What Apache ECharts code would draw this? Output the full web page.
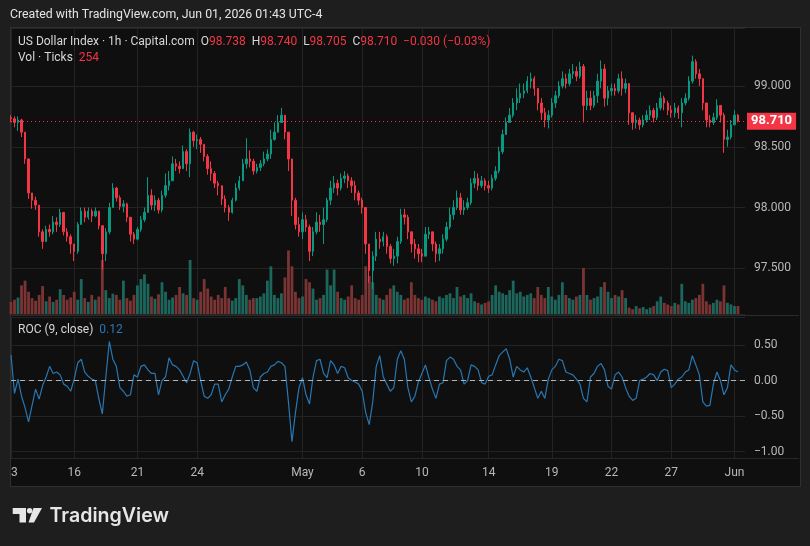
<!DOCTYPE html>
<html>
<head>
<meta charset="utf-8">
<script src="https://cdn.jsdelivr.net/npm/echarts@6/dist/echarts.min.js"></script>
<style>
  html, body { margin: 0; padding: 0; background: #1e1e1e; }
  #panel { position: absolute; left: 10px; top: 27px; width: 789px; height: 458px; background: #0f0f0f; border: 1px solid #2f2f2f; }
  #chart { position: absolute; left: 0; top: 0; width: 810px; height: 546px; }
</style>
</head>
<body>
<div id="panel"></div>
<div id="chart"></div>
<script>
  var firstOpen = 98.74;
  var closes = [
    98.73, 98.70, 98.72, 98.62, 98.40, 98.12, 98.06, 98.02, 97.80, 97.72,
    97.82, 97.80, 97.88, 97.86, 97.96, 97.80, 97.76, 97.70, 97.64, 97.86,
    97.97, 97.92, 97.97, 97.93, 97.97, 97.85, 97.62, 97.80, 98.00, 98.16,
    98.08, 98.01, 98.03, 97.92, 97.78, 97.74, 97.82, 97.90, 97.96, 98.10,
    98.02, 98.06, 97.98, 98.10, 98.18, 98.22, 98.36, 98.34, 98.32, 98.46,
    98.36, 98.62, 98.55, 98.56, 98.52, 98.42, 98.32, 98.28, 98.20, 98.18,
    98.07, 98.00, 97.96, 98.06, 98.16, 98.22, 98.36, 98.40, 98.38, 98.30,
    98.33, 98.36, 98.40, 98.44, 98.56, 98.62, 98.70, 98.76, 98.62, 98.40,
    98.06, 97.86, 97.80, 97.90, 97.84, 97.64, 97.80, 97.88, 97.86, 97.90,
    98.06, 98.16, 98.20, 98.16, 98.24, 98.26, 98.22, 98.18, 98.12, 98.06,
    98.00, 97.70, 97.48, 97.60, 97.74, 97.72, 97.76, 97.68, 97.58, 97.60,
    97.72, 97.94, 97.92, 97.80, 97.70, 97.66, 97.62, 97.60, 97.78, 97.80,
    97.70, 97.62, 97.66, 97.74, 97.84, 97.94, 98.00, 98.08, 97.98, 98.00,
    98.04, 98.20, 98.24, 98.18, 98.22, 98.18, 98.16, 98.24, 98.30, 98.46,
    98.60, 98.70, 98.76, 98.86, 98.90, 98.94, 98.96, 99.04, 99.06, 98.98,
    98.86, 98.78, 98.72, 98.76, 98.86, 98.92, 99.00, 99.06, 99.02, 99.10,
    99.12, 99.08, 99.16, 98.84, 98.90, 98.84, 98.92, 99.04, 99.14, 98.90,
    98.96, 98.98, 98.96, 99.06, 98.98, 99.02, 98.78, 98.70, 98.72, 98.68,
    98.72, 98.76, 98.80, 98.74, 98.82, 98.90, 98.86, 98.80, 98.78, 98.82,
    98.78, 98.86, 98.90, 99.04, 99.20, 99.10, 99.06, 98.86, 98.72, 98.70,
    98.74, 98.84, 98.76, 98.56, 98.58, 98.68, 98.76, 98.71
  ];
  var highs = [
    98.76, 98.75, 98.75, 98.73, 98.58, 98.36, 98.10, 98.09, 97.99, 97.82,
    97.85, 97.86, 97.93, 97.92, 97.99, 97.94, 97.83, 97.78, 97.70, 97.88,
    98.00, 98.00, 98.00, 97.99, 98.00, 97.96, 97.85, 97.83, 98.04, 98.20,
    98.17, 98.10, 98.06, 98.04, 97.92, 97.80, 97.84, 97.93, 98.00, 98.25,
    98.15, 98.10, 98.08, 98.14, 98.28, 98.30, 98.42, 98.40, 98.38, 98.51,
    98.48, 98.65, 98.63, 98.60, 98.58, 98.50, 98.44, 98.38, 98.30, 98.22,
    98.18, 98.10, 98.02, 98.08, 98.20, 98.26, 98.40, 98.57, 98.47, 98.40,
    98.36, 98.39, 98.46, 98.48, 98.64, 98.70, 98.76, 98.82, 98.74, 98.62,
    98.38, 98.08, 97.92, 97.96, 97.94, 97.86, 97.84, 97.96, 97.94, 98.00,
    98.08, 98.22, 98.26, 98.23, 98.28, 98.30, 98.28, 98.25, 98.22, 98.14,
    98.08, 97.98, 97.70, 97.64, 97.80, 97.80, 97.80, 97.78, 97.70, 97.66,
    97.76, 97.99, 97.99, 97.94, 97.80, 97.74, 97.70, 97.66, 97.84, 97.84,
    97.80, 97.72, 97.70, 97.78, 97.88, 98.00, 98.06, 98.14, 98.12, 98.06,
    98.08, 98.24, 98.30, 98.28, 98.26, 98.24, 98.22, 98.27, 98.34, 98.50,
    98.64, 98.74, 98.82, 98.90, 98.98, 99.02, 99.02, 99.08, 99.11, 99.08,
    98.98, 98.90, 98.82, 98.80, 98.90, 98.96, 99.04, 99.12, 99.10, 99.14,
    99.18, 99.16, 99.20, 99.18, 98.96, 98.96, 98.96, 99.10, 99.21, 99.18,
    99.00, 99.02, 99.02, 99.10, 99.12, 99.06, 98.83, 98.78, 98.76, 98.74,
    98.76, 98.80, 98.84, 98.82, 98.86, 98.95, 98.92, 98.88, 98.84, 98.86,
    98.84, 98.90, 98.94, 99.08, 99.25, 99.22, 99.14, 99.04, 98.86, 98.76,
    98.78, 98.89, 98.84, 98.78, 98.64, 98.72, 98.80, 98.77
  ];
  var lows = [
    98.70, 98.66, 98.63, 98.58, 98.36, 98.07, 97.99, 97.98, 97.76, 97.66,
    97.72, 97.76, 97.78, 97.80, 97.84, 97.77, 97.72, 97.62, 97.56, 97.62,
    97.86, 97.88, 97.90, 97.88, 97.92, 97.82, 97.49, 97.56, 97.78, 98.02,
    98.05, 97.98, 97.96, 97.88, 97.72, 97.70, 97.73, 97.80, 97.88, 97.96,
    97.98, 97.97, 97.95, 97.96, 98.08, 98.14, 98.26, 98.30, 98.28, 98.32,
    98.30, 98.25, 98.50, 98.48, 98.45, 98.38, 98.27, 98.22, 98.16, 98.10,
    98.02, 97.96, 97.89, 97.95, 98.05, 98.14, 98.22, 98.32, 98.33, 98.27,
    98.28, 98.30, 98.34, 98.38, 98.40, 98.55, 98.62, 98.70, 98.56, 98.30,
    97.93, 97.82, 97.76, 97.74, 97.80, 97.56, 97.60, 97.78, 97.80, 97.70,
    97.88, 98.02, 98.12, 98.10, 98.14, 98.20, 98.16, 98.12, 98.06, 98.02,
    97.95, 97.62, 97.38, 97.33, 97.56, 97.66, 97.68, 97.62, 97.54, 97.52,
    97.54, 97.70, 97.86, 97.74, 97.63, 97.58, 97.55, 97.55, 97.60, 97.74,
    97.64, 97.55, 97.56, 97.62, 97.72, 97.82, 97.90, 97.98, 97.94, 97.94,
    97.98, 98.02, 98.16, 98.14, 98.16, 98.14, 98.12, 98.14, 98.22, 98.28,
    98.44, 98.60, 98.70, 98.74, 98.80, 98.86, 98.90, 98.94, 98.98, 98.92,
    98.80, 98.72, 98.66, 98.65, 98.74, 98.82, 98.90, 98.98, 98.98, 99.00,
    99.06, 99.04, 99.06, 98.70, 98.80, 98.80, 98.82, 98.86, 98.98, 98.83,
    98.84, 98.92, 98.92, 98.94, 98.92, 98.94, 98.68, 98.64, 98.65, 98.64,
    98.66, 98.70, 98.72, 98.70, 98.72, 98.80, 98.80, 98.76, 98.74, 98.74,
    98.73, 98.66, 98.84, 98.88, 99.02, 99.06, 99.00, 98.80, 98.66, 98.66,
    98.68, 98.72, 98.70, 98.45, 98.50, 98.56, 98.68, 98.70
  ];
  // volume in ticks
  var vols = [
    380, 450, 520, 900, 1050, 700, 500, 420, 600, 880,
    400, 550, 380, 450, 780, 600, 450, 520, 700, 450,
    1100, 500, 380, 600, 450, 550, 1700, 750, 500, 640,
    600, 450, 1050, 500, 420, 600, 900, 1100, 1250, 950,
    550, 480, 620, 1000, 700, 450, 520, 600, 850, 650,
    600, 1700, 500, 450, 700, 1100, 800, 550, 450, 600,
    500, 850, 500, 420, 500, 1100, 900, 600, 450, 500,
    500, 550, 650, 1050, 1500, 600, 500, 650, 1150, 2000,
    1500, 700, 500, 550, 1100, 1000, 800, 450, 500, 600,
    1400, 900, 1400, 700, 500, 450, 550, 900, 500, 450,
    600, 1500, 1200, 1000, 600, 500, 450, 600, 800, 900,
    700, 600, 450, 500, 1000, 600, 500, 450, 550, 500,
    450, 400, 550, 500, 600, 650, 500, 850, 550, 600,
    500, 650, 400, 350, 300, 350, 400, 600, 900, 700,
    650, 600, 750, 1050, 650, 700, 550, 600, 650, 500,
    850, 600, 500, 850, 550, 450, 600, 1000, 600, 500,
    450, 550, 600, 1450, 600, 450, 500, 550, 850, 1000,
    700, 500, 600, 550, 750, 500, 200, 150, 250, 180,
    220, 150, 200, 250, 400, 550, 350, 300, 250, 350,
    300, 950, 400, 350, 450, 500, 600, 950, 400, 300,
    350, 450, 400, 900, 350, 300, 250, 254
  ];
  // ROC (9, close)
  var rocs = [
    0.36, -0.18, 0.02, -0.22, -0.38, -0.58, -0.35, -0.12, -0.26, -0.07,
    0.05, 0.20, 0.10, 0.12, 0.08, -0.05, -0.08, -0.15, 0.02, 0.25,
    0.30, 0.12, 0.06, 0.02, 0.00, -0.25, -0.47, 0.05, 0.55, 0.30,
    0.20, -0.10, -0.15, -0.22, -0.20, 0.08, 0.05, 0.20, 0.22, 0.15,
    0.10, 0.10, -0.20, 0.00, 0.05, 0.32, 0.22, 0.20, 0.15, 0.06,
    -0.03, 0.10, 0.28, 0.25, 0.00, -0.22, -0.25, -0.20, -0.05, -0.05,
    -0.30, -0.20, -0.12, 0.05, 0.20, 0.20, 0.22, 0.26, 0.15, -0.10,
    -0.15, 0.05, 0.10, 0.12, 0.20, 0.22, 0.27, 0.25, 0.20, -0.30,
    -0.86, -0.45, -0.10, 0.04, -0.20, -0.33, 0.05, 0.28, 0.30, 0.10,
    0.04, 0.28, 0.22, 0.10, 0.20, 0.18, 0.04, 0.00, -0.02, -0.05,
    -0.15, -0.45, -0.62, -0.30, 0.20, 0.35, 0.05, -0.05, -0.15, -0.10,
    0.30, 0.42, 0.30, -0.10, -0.30, -0.22, -0.02, 0.10, 0.22, 0.04,
    -0.12, -0.25, -0.05, -0.03, 0.28, 0.33, 0.30, 0.20, 0.15, -0.05,
    0.00, 0.22, 0.20, 0.15, -0.03, -0.05, 0.06, 0.08, 0.22, 0.35,
    0.40, 0.45, 0.30, 0.05, 0.20, 0.15, 0.12, 0.18, 0.05, -0.10,
    -0.25, -0.15, -0.25, 0.02, 0.15, 0.20, 0.30, 0.28, 0.12, 0.10,
    0.08, 0.02, -0.05, -0.25, -0.30, 0.05, 0.10, 0.20, 0.24, 0.15,
    -0.08, -0.12, 0.08, 0.12, 0.05, -0.10, -0.22, -0.28, -0.25, 0.00,
    0.02, 0.05, 0.10, 0.08, 0.00, 0.12, 0.16, 0.14, -0.10, -0.05,
    0.02, 0.05, 0.12, 0.15, 0.35, 0.22, 0.08, -0.30, -0.36, -0.35,
    -0.05, 0.12, 0.00, -0.20, -0.10, 0.22, 0.15, 0.12
  ];
  // time axis: bar index -> label
  var tickBars = [0, 18, 36, 53, 83, 100, 117, 136, 154, 171, 188, 206];
  var tickLabels = ['13', '16', '21', '24', 'May', '6', '10', '14', '19', '22', '27', 'Jun'];
  var headerText = 'Created with TradingView.com, Jun 01, 2026 01:43 UTC-4';
  var lastOHLC = ['98.738', '98.740', '98.705', '98.710'];
  var lastChange = '\u22120.030 (\u22120.03%)';

  var UP = '#089981', DOWN = '#f23645';
  var FONT = 'Roboto';
  var TXT = '#b8b8b8';
  var GRID = '#232323';
  var ROC_BLUE = '#2877b2';

  var cats = [];
  for (var i = 0; i < closes.length + 2; i++) cats.push(String(i));

  var candles = closes.map(function (c, i) {
    var o = i === 0 ? firstOpen : closes[i - 1];
    return [o, c, Math.min(lows[i], o, c), Math.max(highs[i], o, c)];
  });
  var volData = vols.map(function (v, i) {
    var up = candles[i][1] >= candles[i][0];
    return { value: v, itemStyle: { color: up ? '#1d665c' : '#7a3434' } };
  });
  var lastClose = closes[closes.length - 1];
  var lastVol = vols[vols.length - 1];
  var lastRoc = rocs[rocs.length - 1];

  function isTick(i) { return tickBars.indexOf(i) >= 0; }

  var xBase = {
    type: 'category', data: cats, boundaryGap: false,
    axisLine: { show: false }, axisTick: { show: false },
    splitLine: { show: true, interval: isTick, lineStyle: { color: GRID, width: 1 } }
  };
  var yBase = {
    type: 'value', position: 'right', scale: true,
    axisLine: { show: false }, axisTick: { show: false },
    splitLine: { show: true, lineStyle: { color: GRID, width: 1 } }
  };

  var chart = echarts.init(document.getElementById('chart'), null, { renderer: 'canvas' });
  var option = {
    backgroundColor: 'transparent',
    animation: false,
    textStyle: { fontFamily: FONT },
    grid: [
      { left: 11, right: 65, top: 28, height: 286, outerBoundsMode: 'none' },
      { left: 11, right: 65, top: 317, height: 141, outerBoundsMode: 'none' }
    ],
    xAxis: [
      Object.assign({}, xBase, { gridIndex: 0, axisLabel: { show: false } }),
      Object.assign({}, xBase, {
        gridIndex: 1,
        axisLabel: {
          show: true, interval: isTick, color: TXT, fontSize: 12, margin: 9, fontFamily: FONT,
          formatter: function (v, i) { return tickLabels[tickBars.indexOf(i)]; }
        }
      })
    ],
    yAxis: [
      Object.assign({}, yBase, {
        gridIndex: 0, min: 97.124, max: 99.477, splitNumber: 5,
        axisLabel: {
          color: TXT, fontSize: 12, margin: 9, fontFamily: FONT, showMinLabel: false, showMaxLabel: false,
          formatter: function (v) { return v.toFixed(3); }
        }
      }),
      { type: 'value', gridIndex: 0, min: 0, max: 9000, show: false, splitLine: { show: false } },
      Object.assign({}, yBase, {
        gridIndex: 1, min: -1.089, max: 0.894, splitNumber: 4,
        axisLabel: {
          color: TXT, fontSize: 12, margin: 9, fontFamily: FONT, showMinLabel: false, showMaxLabel: false,
          formatter: function (v) { return (v < 0 ? '\u2212' : '') + Math.abs(v).toFixed(2); }
        }
      })
    ],
    series: [
      {
        name: 'Vol', type: 'bar', xAxisIndex: 0, yAxisIndex: 1, data: volData,
        barWidth: '80%', z: 1, silent: true,
        markLine: {
          symbol: 'none', silent: true, z: 20,
          data: [{ yAxis: lastVol }],
          lineStyle: { opacity: 0 },
          label: {
            position: 'end', distance: 2, formatter: String(lastVol),
            backgroundColor: '#f0464f', color: '#fff', fontWeight: 'bold', fontSize: 12,
            fontFamily: FONT, padding: [3, 6, 2, 6]
          }
        }
      },
      {
        name: 'DXY', type: 'candlestick', xAxisIndex: 0, yAxisIndex: 0, data: candles,
        barWidth: '55%', z: 3,
        itemStyle: { color: UP, color0: DOWN, borderColor: UP, borderColor0: DOWN, borderWidth: 1 },
        markLine: {
          symbol: 'none', silent: true, z: 20,
          data: [{ yAxis: lastClose }],
          lineStyle: { color: DOWN, type: [1, 3], width: 1 },
          label: {
            position: 'end', distance: 2, formatter: lastClose.toFixed(3),
            backgroundColor: DOWN, color: '#fff', fontWeight: 'bold', fontSize: 13,
            fontFamily: FONT, padding: [2, 4, 2, 4]
          }
        }
      },
      {
        name: 'ROC', type: 'line', xAxisIndex: 1, yAxisIndex: 2, data: rocs,
        symbol: 'none', lineStyle: { color: ROC_BLUE, width: 1.2 }, z: 3,
        markLine: {
          symbol: 'none', silent: true, z: 20,
          data: [
            { yAxis: 0, lineStyle: { color: '#b4b4b4', type: [5, 4], width: 1 }, label: { show: false } },
            {
              yAxis: lastRoc, lineStyle: { opacity: 0 },
              label: {
                show: true, position: 'end', distance: 2, formatter: lastRoc.toFixed(2),
                backgroundColor: '#1f6e9e', color: '#fff', fontWeight: 'bold', fontSize: 13,
                fontFamily: FONT, padding: [2, 6, 4, 6]
              }
            }
          ]
        }
      }
    ],
    graphic: [
      // hide the clipped part of the first date label
      { type: 'rect', z: 100, shape: { x: 0, y: 459, width: 10, height: 26 }, style: { fill: '#1e1e1e' } },
      { type: 'line', z: 90, shape: { x1: 11, y1: 315.5, x2: 799, y2: 315.5 }, style: { stroke: '#2b2b2b', lineWidth: 1 } },
      { type: 'line', z: 90, shape: { x1: 11, y1: 458.5, x2: 799, y2: 458.5 }, style: { stroke: '#262626', lineWidth: 1 } },
      {
        type: 'text', z: 100, x: 10, y: 15,
        style: { text: headerText, fill: '#e4e4e4', fontSize: 12.3, fontFamily: FONT, verticalAlign: 'middle' }
      },
      {
        type: 'text', z: 100, x: 18, y: 42,
        style: {
          text: '{t|US Dollar Index \u00b7 1h \u00b7 Capital.com}  {t|O}{r|' + lastOHLC[0] + '}  {t|H}{r|' + lastOHLC[1] +
            '}  {t|L}{r|' + lastOHLC[2] + '}  {t|C}{r|' + lastOHLC[3] + '}  {r|' + lastChange + '}',
          verticalAlign: 'middle', fontSize: 12, fontFamily: FONT,
          rich: {
            t: { fill: '#d6d6d6', fontSize: 12, fontFamily: FONT },
            r: { fill: DOWN, fontSize: 12, fontFamily: FONT }
          }
        }
      },
      {
        type: 'text', z: 100, x: 18, y: 58,
        style: {
          text: '{t|Vol \u00b7 Ticks}  {r|' + lastVol + '}',
          verticalAlign: 'middle', fontSize: 12, fontFamily: FONT,
          rich: {
            t: { fill: '#d6d6d6', fontSize: 12, fontFamily: FONT },
            r: { fill: DOWN, fontSize: 12, fontFamily: FONT }
          }
        }
      },
      {
        type: 'text', z: 100, x: 18, y: 330,
        style: {
          text: '{t|ROC (9, close)}  {b|' + lastRoc.toFixed(2) + '}',
          verticalAlign: 'middle', fontSize: 12, fontFamily: FONT,
          rich: {
            t: { fill: '#d6d6d6', fontSize: 12, fontFamily: FONT },
            b: { fill: ROC_BLUE, fontSize: 12, fontFamily: FONT }
          }
        }
      },
      // TradingView logo
      { type: 'polygon', z: 100, shape: { points: [[12.7, 508], [26, 508], [26, 522.5], [19.5, 522.5], [19.5, 514], [12.7, 514]] }, style: { fill: '#e6e6e6' } },
      { type: 'circle', z: 100, shape: { cx: 29.6, cy: 510.8, r: 2.7 }, style: { fill: '#e6e6e6' } },
      { type: 'polygon', z: 100, shape: { points: [[33.5, 508], [42, 508], [34, 522.5], [28.5, 522.5]] }, style: { fill: '#e6e6e6' } },
      {
        type: 'text', z: 100, x: 49.5, y: 516,
        style: { text: 'TradingView', fill: '#e6e6e6', fontSize: 19.6, fontWeight: 600, fontFamily: 'Inter', verticalAlign: 'middle' }
      }
    ]
  };
  chart.setOption(option);
</script>
</body>
</html>
